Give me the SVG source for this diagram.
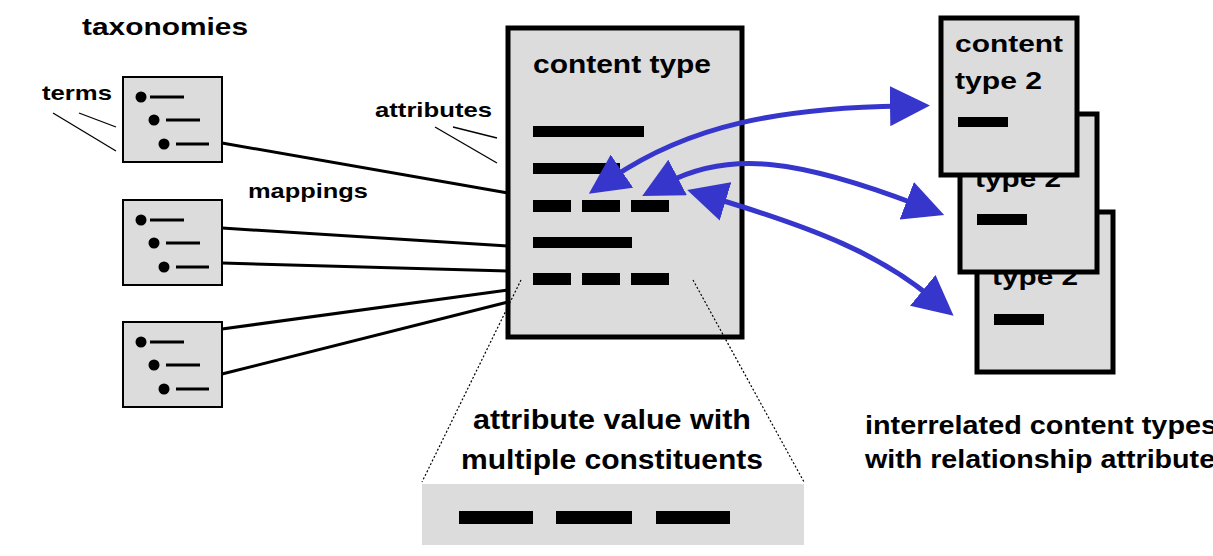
<svg xmlns="http://www.w3.org/2000/svg" width="1213" height="556" viewBox="0 0 1213 556">
<defs>
<style>
text{font-family:"Liberation Sans",Arial,sans-serif;font-weight:bold;fill:#000}
.box{fill:#dcdcdc;stroke:#000;stroke-width:2}
.big{fill:#dcdcdc;stroke:#000;stroke-width:5}
.ln{stroke:#000;stroke-width:3;fill:none}
.thin{stroke:#000;stroke-width:1.3;fill:none}
.dot{stroke:#000;stroke-width:1.2;stroke-dasharray:2 2;fill:none}
.blue{stroke:#3636cc;stroke-width:5;fill:none;marker-start:url(#ah);marker-end:url(#ah)}
</style>
<marker id="ah" viewBox="0 0 10 10" refX="3" refY="5" markerWidth="8" markerHeight="8" markerUnits="strokeWidth" orient="auto-start-reverse">
<path d="M0,0 L10,5 L0,10 z" fill="#3636cc"/>
</marker>
<g id="tlist">
<rect class="box" x="0" y="0" width="99" height="85"/>
<circle cx="18" cy="20" r="5.5"/><line class="ln" x1="27" y1="20" x2="61" y2="20"/>
<circle cx="31" cy="43" r="5.5"/><line class="ln" x1="43" y1="43" x2="77" y2="43"/>
<circle cx="41" cy="67" r="5.5"/><line class="ln" x1="53" y1="67" x2="86" y2="67"/>
</g>
</defs>
<rect width="1213" height="556" fill="#fff"/>
<text x="82" y="35" font-size="24" textLength="166" lengthAdjust="spacingAndGlyphs">taxonomies</text>
<text x="42" y="100" font-size="21" textLength="70" lengthAdjust="spacingAndGlyphs">terms</text>
<text x="248" y="198" font-size="21" textLength="120" lengthAdjust="spacingAndGlyphs">mappings</text>
<text x="375" y="117" font-size="21" textLength="117" lengthAdjust="spacingAndGlyphs">attributes</text>
<g id="labels-lines">
<line class="thin" x1="53" y1="113" x2="116" y2="151"/>
<line class="thin" x1="79" y1="113" x2="116" y2="127"/>
<line class="thin" x1="435" y1="127" x2="497" y2="163"/>
<line class="thin" x1="453" y1="127" x2="497" y2="138"/>
</g>
<g id="tax1"><use href="#tlist" x="123" y="77"/></g>
<g id="tax2"><use href="#tlist" x="123" y="200"/></g>
<g id="tax3"><use href="#tlist" x="123" y="322"/></g>
<g id="mappings">
<line class="ln" x1="222" y1="143" x2="508" y2="193"/>
<line class="ln" x1="222" y1="228" x2="508" y2="246"/>
<line class="ln" x1="222" y1="263" x2="508" y2="271"/>
<line class="ln" x1="222" y1="329" x2="508" y2="290"/>
<line class="ln" x1="222" y1="374" x2="508" y2="302"/>
</g>
<g id="ct3">
<rect class="big" x="977" y="212" width="136" height="160"/>
<text x="992" y="240" font-size="24" textLength="100" lengthAdjust="spacingAndGlyphs">content</text>
<text x="992" y="285" font-size="24" textLength="86" lengthAdjust="spacingAndGlyphs">type 2</text>
<rect x="994" y="314" width="50" height="11"/>
</g>
<g id="ct2">
<rect class="big" x="960" y="114" width="137" height="158"/>
<text x="975" y="142" font-size="24" textLength="100" lengthAdjust="spacingAndGlyphs">content</text>
<text x="975" y="187" font-size="24" textLength="86" lengthAdjust="spacingAndGlyphs">type 2</text>
<rect x="977" y="214" width="50" height="11"/>
</g>
<g id="ct1">
<rect class="big" x="941" y="18" width="136" height="157"/>
<text x="955" y="52" font-size="24" textLength="108" lengthAdjust="spacingAndGlyphs">content</text>
<text x="955" y="89" font-size="24" textLength="87" lengthAdjust="spacingAndGlyphs">type 2</text>
<rect x="958" y="117" width="50" height="10"/>
</g>
<g id="content-type">
<rect class="big" x="508" y="28" width="234" height="309"/>
<text x="533" y="73" font-size="25" textLength="178" lengthAdjust="spacingAndGlyphs">content type</text>
<rect x="533" y="126" width="111" height="11"/>
<rect x="533" y="163" width="87" height="11"/>
<rect x="533" y="200" width="38" height="12"/><rect x="582" y="200" width="38" height="12"/><rect x="631" y="200" width="38" height="12"/>
<rect x="533" y="237" width="99" height="11"/>
<rect x="533" y="273" width="38" height="12"/><rect x="582" y="273" width="38" height="12"/><rect x="631" y="273" width="38" height="12"/>
</g>
<g id="zoom">
<line class="dot" x1="521" y1="280" x2="422" y2="482"/>
<line class="dot" x1="693" y1="280" x2="804" y2="482"/>
<rect x="422" y="484" width="382" height="61" fill="#dcdcdc"/>
<rect x="459" y="511" width="74" height="13"/><rect x="556" y="511" width="76" height="13"/><rect x="656" y="511" width="74" height="13"/>
<text x="612" y="429" font-size="27" text-anchor="middle" textLength="278" lengthAdjust="spacingAndGlyphs">attribute value with</text>
<text x="612" y="469" font-size="27" text-anchor="middle" textLength="302" lengthAdjust="spacingAndGlyphs">multiple constituents</text>
</g>
<text x="865" y="434" font-size="26" textLength="352" lengthAdjust="spacingAndGlyphs">interrelated content types</text>
<text x="865" y="468" font-size="26" textLength="366" lengthAdjust="spacingAndGlyphs">with relationship attributes</text>
<g id="relations">
<path class="blue" d="M612,178 C690,125 780,108 902,106"/>
<path class="blue" d="M667,183 C730,150 800,160 918,205"/>
<path class="blue" d="M714,198 C820,230 880,255 932,298"/>
</g>
</svg>
